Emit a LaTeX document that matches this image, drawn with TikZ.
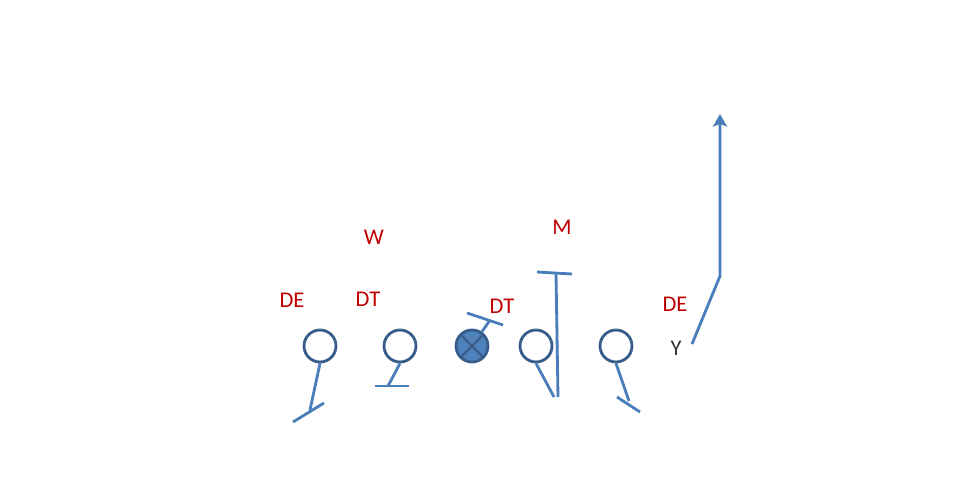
\documentclass[tikz,border=0pt]{standalone}
\usepackage{fontspec}
\setmainfont{Carlito}
\usetikzlibrary{arrows.meta,positioning}

\definecolor{olblue}{HTML}{385D8A}
\definecolor{blkblue}{HTML}{4A7EBB}
\definecolor{ballblue}{HTML}{4F81BD}
\definecolor{defred}{HTML}{C00000}

\tikzset{
  player/.style={circle,draw=olblue,line width=2pt,minimum size=0.8cm,inner sep=0pt,fill=white},
  center/.style={player,fill=ballblue,path picture={
      \draw[olblue,line width=1.6pt] (path picture bounding box.north west) -- (path picture bounding box.south east)
        (path picture bounding box.north east) -- (path picture bounding box.south west);}},
  defender/.style={text=defred,font=\fontsize{16}{18}\selectfont},
  block/.style={draw=blkblue,line width=2pt}
}

\begin{document}
\begin{tikzpicture}[x=0.025cm,y=-0.025cm]
			\useasboundingbox (0,0) rectangle (960,504);
			% offensive line
			\node[player](lt) at (320,346) {};
			\node[player](lg) at (400,346) {};
			\node[center](c) at (472,346) {};
			\node[player](rg) at (536,346) {};
			\node[player](rt) at (616,346) {};
			\node[text=black!80,font=\fontsize{16}{18}\selectfont](y) at (676,348) {Y};
			% defense
			\node[defender](lde) at (292,300) {DE};
			\node[defender](ldt) at (368,299) {DT};
			\node[defender](w) at (374,237) {W};
			\node[defender](rdt) at (502,306) {DT};
			\node[defender](m) at (562,227) {M};
			\node[defender](rde) at (675,304) {DE};
			% block ends and bars
			\coordinate (ltend) at (310,410);
			\coordinate (ltbarA) at (293,422);
			\coordinate (ltbarB) at (324,403);
			\coordinate (lgend) at (388,386);
			\coordinate (lgbarA) at (375,386);
			\coordinate (lgbarB) at (409,386);
			\coordinate (cend) at (490,320);
			\coordinate (cbarA) at (467,313);
			\coordinate (cbarB) at (503,325);
			\coordinate (rgend) at (554,397);
			\coordinate (mfoot) at (558,397);
			\coordinate (mend) at (556,273);
			\coordinate (mbarA) at (537,272);
			\coordinate (mbarB) at (572,274);
			\coordinate (rtend) at (629,401);
			\coordinate (rtbarA) at (617,397);
			\coordinate (rtbarB) at (640,412);
			\coordinate (ystart) at (692,344);
			\coordinate (ybreak) at (720,276);
			\coordinate (ytop) at (720,114);
			\path[block]
			(lt.south) edge (ltend)
			(ltbarA) edge (ltbarB)
			(lg.south) edge (lgend)
			(lgbarA) edge (lgbarB)
			(c.55) edge (cend)
			(cbarA) edge (cbarB)
			(rg.south) edge (rgend)
			(mfoot) edge (mend)
			(mbarA) edge (mbarB)
			(rt.south) edge (rtend)
			(rtbarA) edge (rtbarB);
			\draw[block,-{Stealth[length=9pt,width=10pt,inset=2pt]}] (ystart) -- (ybreak) -- (ytop);
			\end{tikzpicture}
\end{document}
